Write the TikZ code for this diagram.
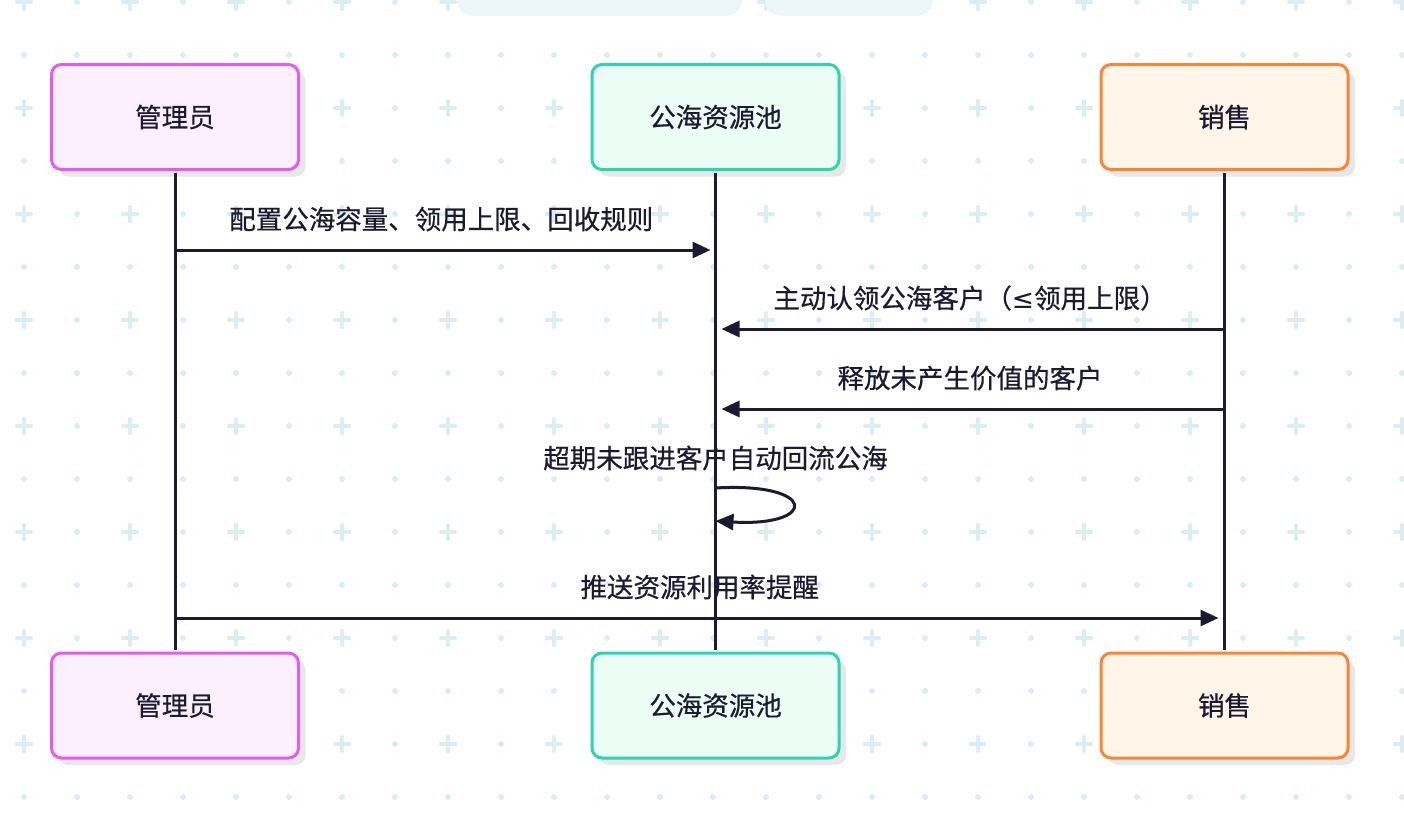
\documentclass[tikz,border=0pt]{standalone}
\usepackage{fontspec}
\setmainfont{Noto Sans CJK SC}[FakeBold=0.5]
\newfontfamily\symfont{DejaVu Sans}
\usepackage{xcolor}
\definecolor{lnDark}{HTML}{1C1A30}
\definecolor{gridDot}{HTML}{D8EEF2}
\definecolor{tabFill}{HTML}{EDF6F8}
\definecolor{admEdge}{HTML}{E25CF2}
\definecolor{admFill}{HTML}{FDF0FE}
\definecolor{poolEdge}{HTML}{2DD4B0}
\definecolor{poolFill}{HTML}{ECFDF6}
\definecolor{saleEdge}{HTML}{FB8533}
\definecolor{saleFill}{HTML}{FFF5E9}
\usetikzlibrary{arrows.meta,shadows}

\begin{document}
\begin{tikzpicture}[x=1pt, y=-1pt,
    actorbox/.style={rectangle, rounded corners=10pt, line width=3pt,
                     minimum width=247pt, minimum height=105pt, align=center,
                     font=\fontsize{26.5}{30}\selectfont, text=lnDark,
                     drop shadow={shadow xshift=7pt, shadow yshift=-7pt, fill=black!9, opacity=1}},
    msgtext/.style={font=\fontsize{26.5}{30}\selectfont, text=lnDark},
    msg/.style={-{Triangle[length=18pt, width=16pt]}, line width=3pt, draw=lnDark},
    life/.style={line width=3pt, draw=lnDark, shorten <=1.5pt, shorten >=1.5pt}
  ]
    \useasboundingbox (0,0) rectangle (1404,822);
    \fill[white] (0,0) rectangle (1404,822);

    % Dotted grid background
    \begin{scope}
      \clip (0,0) rectangle (1404,822);
      \foreach \i in {0,...,26} {
        \foreach \j in {-1,...,15} {
          \pgfmathsetmacro\px{24+53*\i}
          \pgfmathsetmacro\py{55+53*\j}
          \ifodd\j
            \ifodd\i
              \fill[gridDot] (\px,\py) circle (3pt);
            \else
              \draw[gridDot, line width=4pt, line cap=round]
                (\px-7,\py) -- (\px+7,\py) (\px,\py-7) -- (\px,\py+7);
            \fi
          \else
            \fill[gridDot] (\px,\py) circle (3pt);
          \fi
        }
      }
      % Tabs cut off at the top
      \fill[tabFill, rounded corners=15pt] (457,-40) rectangle (742,15.5);
      \fill[tabFill, rounded corners=15pt] (765,-40) rectangle (933,15.5);
    \end{scope}

    % Participants (top)
    \node[actorbox, draw=admEdge,  fill=admFill]  (admTop)  at (175,117)    {管理员};
    \node[actorbox, draw=poolEdge, fill=poolFill] (poolTop) at (715.5,117)  {公海资源池};
    \node[actorbox, draw=saleEdge, fill=saleFill] (saleTop) at (1224.5,117) {销售};
    % Participants (bottom)
    \node[actorbox, draw=admEdge,  fill=admFill]  (admBot)  at (175,705.5)    {管理员};
    \node[actorbox, draw=poolEdge, fill=poolFill] (poolBot) at (715.5,705.5)  {公海资源池};
    \node[actorbox, draw=saleEdge, fill=saleFill] (saleBot) at (1224.5,705.5) {销售};

    % Lifelines
    \draw[life] (admTop.south)  -- (admBot.north);
    \draw[life] (poolTop.south) -- (poolBot.north);
    \draw[life] (saleTop.south) -- (saleBot.north);

    % Admin -> Pool: settings
    \draw[msg, shorten >=5pt] (admTop.south |- 0,250) --
      node[msgtext, yshift=31pt, xshift=-4pt] (m1) {配置公海容量、领用上限、回收规则} (poolTop.south |- 0,250);
    % Sales -> Pool: claim
    \draw[msg, shorten >=6pt] (saleTop.south |- 0,329) --
      node[msgtext, yshift=31pt] (m2) {主动认领公海客户（{\symfont ≤}领用上限）} (poolTop.south |- 0,329);
    % Sales -> Pool: release
    \draw[msg, shorten >=6pt] (saleTop.south |- 0,409) --
      node[msgtext, yshift=31pt] (m3) {释放未产生价值的客户} (poolTop.south |- 0,409);
    % Pool -> Pool: auto return
    \node[msgtext] (m4) at (poolTop.south |- 0,458) {超期未跟进客户自动回流公海};
    \draw[msg] (poolTop.south |- 0,488) .. controls (818,482) and (818,527) .. (poolTop.south |- 0,521);
    % Admin -> Sales: reminder
    \draw[msg, shorten >=6pt] (admTop.south |- 0,618) --
      node[msgtext, yshift=31pt] (m5) {推送资源利用率提醒} (saleTop.south |- 0,618);
  \end{tikzpicture}
\end{document}
